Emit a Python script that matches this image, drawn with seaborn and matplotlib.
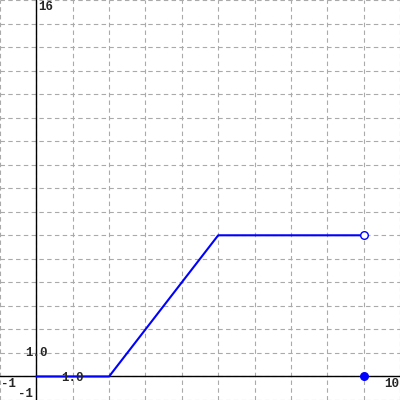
import matplotlib
matplotlib.use("Agg")
import matplotlib.pyplot as plt
import seaborn as sns
import pandas as pd

line_x = [0, 2, 5, 9]
line_y = [0, 0, 6, 6]
open_pt = (9, 6)
closed_pt = (9, 0)

sns.set_style("white")
fig = plt.figure(figsize=(4, 4), dpi=100)
ax = fig.add_axes([0, 0, 1, 1])
ax.set_xlim(-1, 10)
ax.set_ylim(-1, 16)
for x in range(-1, 11):
    ax.axvline(x, color="#aaaaaa", ls=(0, (4, 3)), lw=0.8, zorder=0)
for y in range(-1, 17):
    ax.axhline(y, color="#aaaaaa", ls=(0, (4, 3)), lw=0.8, zorder=0)
ax.axvline(0, color="black", lw=1, zorder=1)
ax.axhline(0, color="black", lw=1, zorder=1)
df = pd.DataFrame({"x": line_x, "y": line_y})
sns.lineplot(data=df, x="x", y="y", color="blue", lw=1.5, ax=ax, zorder=3)
ax.scatter([open_pt[0]], [open_pt[1]], s=30, facecolor="white", edgecolor="blue", zorder=4)
ax.scatter([closed_pt[0]], [closed_pt[1]], s=30, color="blue", zorder=4)
ax.set_xticks([]); ax.set_yticks([])
ax.set_xlabel(""); ax.set_ylabel("")
for s in ax.spines.values():
    s.set_visible(False)
fp = dict(family="Liberation Mono", fontsize=9, fontweight="bold")
ax.text(0.05, 15.95, "16", va="top", ha="left", **fp)
ax.text(0.0, 1.0, "1.0", va="center", ha="center", **fp)
ax.text(1.0, -0.05, "1.0", va="center", ha="center", **fp)
ax.text(-0.97, -0.05, "-1", va="top", ha="left", **fp)
ax.text(-0.3, -0.75, "-1", va="center", ha="center", **fp)
ax.text(9.97, -0.05, "10", va="top", ha="right", **fp)
fig.savefig("out.png", dpi=100)
